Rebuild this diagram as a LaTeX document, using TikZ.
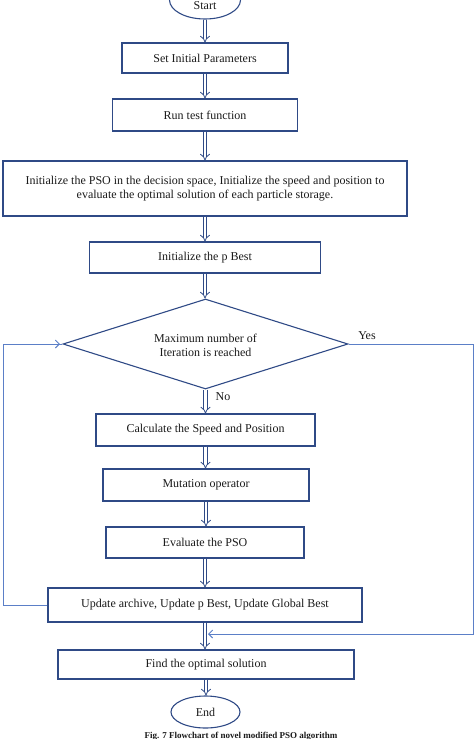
\documentclass[tikz,border=0pt]{standalone}
\usepackage{fontspec}
\setmainfont{Liberation Serif}
\usetikzlibrary{arrows.meta,shapes.geometric}
\definecolor{boxblue}{HTML}{2F4A86}
\definecolor{loopblue}{HTML}{5B7FC7}
\definecolor{txt}{HTML}{1A1A1A}
\tikzset{
  stepbox/.style={draw=boxblue, line width=1.1pt, rectangle, inner sep=2pt, text=txt, font=\fontsize{12}{14}\selectfont, align=center},
  termbox/.style={draw=boxblue, line width=1.1pt, ellipse, inner sep=0pt, text=txt, font=\fontsize{12}{14}\selectfont},
  dbl/.style={draw=boxblue, line width=0.8pt, double=white, double distance=2.6pt, -{Implies}},
  loopline/.style={draw=loopblue, line width=0.9pt},
  lbl/.style={text=txt, font=\fontsize{12}{14}\selectfont, inner sep=0pt}
}
\begin{document}
\begin{tikzpicture}[x=1pt,y=-1pt]
\useasboundingbox (0,0) rectangle (474,739);
\node[termbox, minimum width=71pt, minimum height=38pt] (start) at (205,0) {};
\node[lbl, anchor=base] (starttxt) at (205,9.5) {Start};
\node[stepbox, minimum width=166pt, minimum height=30pt] (set) at (205,58) {Set Initial Parameters};
\node[stepbox, minimum width=185pt, minimum height=32pt] (run) at (205,115) {Run test function};
\node[stepbox, minimum width=404pt, minimum height=55pt] (init) at (205,188.5) {Initialize the PSO in the decision space, Initialize the speed and position to\\evaluate the optimal solution of each particle storage.};
\node[stepbox, minimum width=231pt, minimum height=31pt] (pbest) at (205,257.5) {Initialize the p Best};
\node[draw=boxblue, line width=1.1pt, diamond, minimum width=285pt, minimum height=90pt, inner sep=0pt] (dia) at (205.5,344) {};
\node[lbl, align=center] (diatxt) at (205.5,345) {Maximum number of\\Iteration is reached};
\node[stepbox, minimum width=219pt, minimum height=32pt] (calc) at (205.5,430) {Calculate the Speed and Position};
\node[stepbox, minimum width=206pt, minimum height=32pt] (mut) at (206,485) {Mutation operator};
\node[stepbox, minimum width=198pt, minimum height=31pt] (eval) at (205,542.5) {Evaluate the PSO};
\node[stepbox, minimum width=314pt, minimum height=34pt] (upd) at (205,605) {Update archive, Update p Best, Update Global Best};
\node[stepbox, minimum width=296pt, minimum height=29pt] (find) at (206,664.5) {Find the optimal solution};
\node[termbox, minimum width=69pt, minimum height=32pt] (end) at (205.5,712) {End};
\node[lbl] (yes) at (367,336) {Yes};
\node[lbl] (no) at (223,397) {No};
\node[anchor=base, inner sep=0pt, text=txt, font=\bfseries\fontsize{9}{10}\selectfont] (cap) at (241,738) {Fig. 7 Flowchart of novel modified PSO algorithm};
% main arrows
\draw[dbl] (start.south) -- (start.south |- set.north);
\draw[dbl] (set.south) -- (set.south |- run.north);
\draw[dbl] (run.south) -- (run.south |- init.north);
\draw[dbl] (init.south) -- (init.south |- pbest.north);
\draw[dbl] (pbest.south) -- (pbest.south |- dia.north);
\draw[dbl] (dia.south) -- (dia.south |- calc.north);
\draw[dbl] (calc.south) -- (calc.south |- mut.north);
\draw[dbl] (mut.south) -- (mut.south |- eval.north);
\draw[dbl] (eval.south) -- (eval.south |- upd.north);
\draw[dbl] (upd.south) -- (upd.south |- find.north);
\draw[dbl] (find.south) -- (find.south |- end.north);
% yes loop
\coordinate (yr1) at (473,344);
\coordinate (yr2) at (473,634);
\coordinate (yend) at (208,634);
\draw[loopline, -{Straight Barb[length=4pt,width=8pt]}] (dia.east) -- (yr1) -- (yr2) -- (yend);
% back loop
\coordinate (bl1) at (3,605);
\coordinate (bl2) at (3,344);
\draw[loopline] (upd.west) -- (bl1) -- (bl2) -- (dia.west);
\draw[loopline, -{Straight Barb[length=4pt,width=8pt]}] (bl2) -- (60,344);
\end{tikzpicture}
\end{document}
